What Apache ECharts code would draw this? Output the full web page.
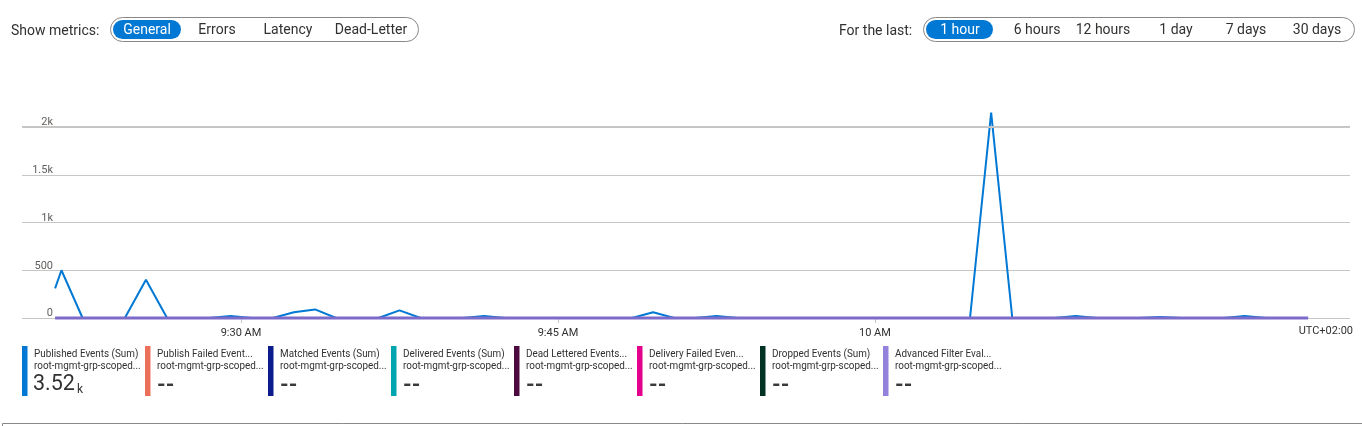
<!DOCTYPE html>
<html>
<head>
<meta charset="utf-8">
<script src="https://cdn.jsdelivr.net/npm/echarts@6/dist/echarts.min.js"></script>
<style>
html,body{margin:0;padding:0;background:#fff;}
#chart{width:1362px;height:426px;}
</style>
</head>
<body>
<div id="chart"></div>
<script>
// ---- data ----
const times = [
  '09:21:12',
  '09:21:30','09:22:30','09:23:30','09:24:30','09:25:30','09:26:30','09:27:30','09:28:30','09:29:30','09:30:30',
  '09:31:30','09:32:30','09:33:30','09:34:30','09:35:30','09:36:30','09:37:30','09:38:30','09:39:30','09:40:30',
  '09:41:30','09:42:30','09:43:30','09:44:30','09:45:30','09:46:30','09:47:30','09:48:30','09:49:30','09:50:30',
  '09:51:30','09:52:30','09:53:30','09:54:30','09:55:30','09:56:30','09:57:30','09:58:30','09:59:30','10:00:30',
  '10:01:30','10:02:30','10:03:30','10:04:30','10:05:30','10:06:30','10:07:30','10:08:30','10:09:30','10:10:30',
  '10:11:30','10:12:30','10:13:30','10:14:30','10:15:30','10:16:30','10:17:30','10:18:30','10:19:30','10:20:30'
];
const publishedEvents = [
  310,
  500,0,0,0,400,0,0,0,20,0,
  0,60,90,0,0,0,80,0,0,0,
  20,0,0,0,0,0,0,0,60,0,
  0,20,0,0,0,0,0,0,0,0,
  0,0,0,0,2150,0,0,0,20,0,
  0,0,10,0,0,0,20,0,0,0
];
const advancedFilterFailed = [
  0,
  0,0,0,0,0,0,0,0,0,0,
  0,0,0,0,0,0,0,0,0,0,
  0,0,0,0,0,0,0,0,0,0,
  0,0,0,0,0,0,0,0,0,0,
  0,0,0,0,0,0,0,0,0,0,
  0,0,0,0,0,0,0,0,0,0
];
const xRange = ['09:19:38', '10:22:29'];
const xTickTimes = ['09:30:00', '09:45:00', '10:00:00'];
const xTickLabels = ['9:30 AM', '9:45 AM', '10 AM'];
const yTickValues = [0, 500, 1000, 1500, 2000];
const yTickLabels = ['0', '500', '1k', '1.5k', '2k'];
const metricNames = ['Published Events (Sum)', 'Publish Failed Event...', 'Matched Events (Sum)', 'Delivered Events (Sum)',
  'Dead Lettered Events...', 'Delivery Failed Even...', 'Dropped Events (Sum)', 'Advanced Filter Eval...'];
const metricResource = 'root-mgmt-grp-scoped...';
const metricTotals = ['3.52', '--', '--', '--', '--', '--', '--', '--'];
const metricUnits = ['k', '', '', '', '', '', '', ''];
const metricColors = ['#0078d4', '#ec6f5a', '#0c1c8c', '#00a5b0', '#4d0a3e', '#e3008c', '#023224', '#9381dc'];
const metricOptions = ['General', 'Errors', 'Latency', 'Dead-Letter'];
const rangeOptions = ['1 hour', '6 hours', '12 hours', '1 day', '7 days', '30 days'];

// ---- helpers ----
function toMin(s) { const p = s.split(':').map(Number); return p[0] * 60 + p[1] + (p[2] || 0) / 60; }
const FONT = "'Segoe UI', Roboto, 'Noto Sans', sans-serif";
const xTicks = xTickTimes.map(toMin);

const graphics = [];
function txt(x, y, text, size, color, align, sx, weight) {
  graphics.push({
    type: 'text', x: x, y: y, silent: true, scaleX: sx || 1,
    style: { text: text, fontSize: size, fontFamily: FONT, fill: color, textAlign: align || 'left', textVerticalAlign: 'middle', fontWeight: weight || 'normal' }
  });
}
// toggle groups
txt(11, 31, 'Show metrics:', 14, '#323130');
graphics.push({ type: 'rect', shape: { x: 110.5, y: 17.5, width: 308, height: 24, r: 12 }, style: { fill: '#fff', stroke: '#8a8886', lineWidth: 1 } });
graphics.push({ type: 'rect', shape: { x: 113, y: 20, width: 68, height: 19, r: 9.5 }, style: { fill: '#0078d4' } });
const mCenters = [147, 217, 288, 371];
metricOptions.forEach((t, i) => txt(mCenters[i], 30.5, t, 14, i === 0 ? '#ffffff' : '#323130', 'center'));

txt(839, 31, 'For the last:', 14, '#323130');
graphics.push({ type: 'rect', shape: { x: 923.5, y: 17.5, width: 431, height: 24, r: 12 }, style: { fill: '#fff', stroke: '#8a8886', lineWidth: 1 } });
graphics.push({ type: 'rect', shape: { x: 926, y: 20, width: 67, height: 19, r: 9.5 }, style: { fill: '#0078d4' } });
const rCenters = [960, 1037, 1103, 1176, 1246, 1317];
rangeOptions.forEach((t, i) => txt(rCenters[i], 30.5, t, 14, i === 0 ? '#ffffff' : '#323130', 'center'));

txt(1353, 331, 'UTC+02:00', 11, '#323130', 'right');

// legend tiles
metricNames.forEach((name, i) => {
  const x0 = 22 + 123 * i;
  graphics.push({ type: 'rect', shape: { x: x0, y: 346, width: 5.5, height: 50 }, style: { fill: metricColors[i] } });
  txt(x0 + 12, 354.5, name, 11.5, '#323130', 'left', 0.86);
  txt(x0 + 12, 366.5, metricResource, 11.5, '#323130', 'left', 0.86);
  if (metricTotals[i] === '--') {
    txt(x0 + 12, 386, metricTotals[i], 22, '#3b3a39', 'left', 1, 'bold');
  } else {
    txt(x0 + 11, 385, metricTotals[i], 21.5, '#323130');
    txt(x0 + 55, 389.5, metricUnits[i], 12, '#323130');
  }
});
// bottom panel border
graphics.push({ type: 'rect', shape: { x: 2.5, y: 423.5, width: 1380, height: 20 }, style: { fill: 'none', stroke: '#8a8886', lineWidth: 1 } });

const chart = echarts.init(document.getElementById('chart'), null, { renderer: 'canvas' });
chart.setOption({
  animation: false,
  backgroundColor: '#ffffff',
  textStyle: { fontFamily: FONT },
  grid: { left: 22, right: 12, top: 127, bottom: 108, containLabel: false },
  xAxis: {
    type: 'value',
    min: toMin(xRange[0]),
    max: toMin(xRange[1]),
    axisLine: { show: false },
    splitLine: { show: false },
    axisTick: { show: true, customValues: xTicks, length: 5, lineStyle: { color: '#c8c6c4' } },
    axisLabel: {
      customValues: xTicks, margin: 10, fontSize: 11, color: '#323130', fontFamily: FONT,
      formatter: function (v) { const i = xTicks.findIndex(t => Math.abs(t - v) < 1e-6); return i >= 0 ? xTickLabels[i] : ''; }
    }
  },
  yAxis: {
    type: 'value', min: 0, max: 2000, interval: 500,
    axisLine: { show: false }, axisTick: { show: false },
    splitLine: { lineStyle: { color: '#c8c6c4', width: 1 } },
    axisLabel: {
      inside: true, margin: 31, align: 'right', verticalAlign: 'bottom', lineHeight: 9,
      fontSize: 11, color: '#605e5c', fontFamily: FONT,
      formatter: function (v) { const i = yTickValues.indexOf(v); return i >= 0 ? yTickLabels[i] : ''; }
    }
  },
  series: [
    {
      name: metricNames[0], type: 'line', clip: false, showSymbol: false, symbol: 'none',
      data: times.map((t, i) => [toMin(t), publishedEvents[i]]),
      lineStyle: { color: metricColors[0], width: 2 }, itemStyle: { color: metricColors[0] },
      markLine: { silent: true, symbol: 'none', label: { show: false }, lineStyle: { color: '#c8c6c4', width: 2, type: 'solid' }, data: [{ yAxis: 2000 }] },
      z: 2
    },
    {
      name: metricNames[7], type: 'line', clip: false, showSymbol: false, symbol: 'none',
      data: times.map((t, i) => [toMin(t), advancedFilterFailed[i]]),
      lineStyle: { color: '#7d6bc9', width: 3 }, itemStyle: { color: '#7d6bc9' },
      z: 3
    }
  ],
  graphic: graphics
});
</script>
</body>
</html>
